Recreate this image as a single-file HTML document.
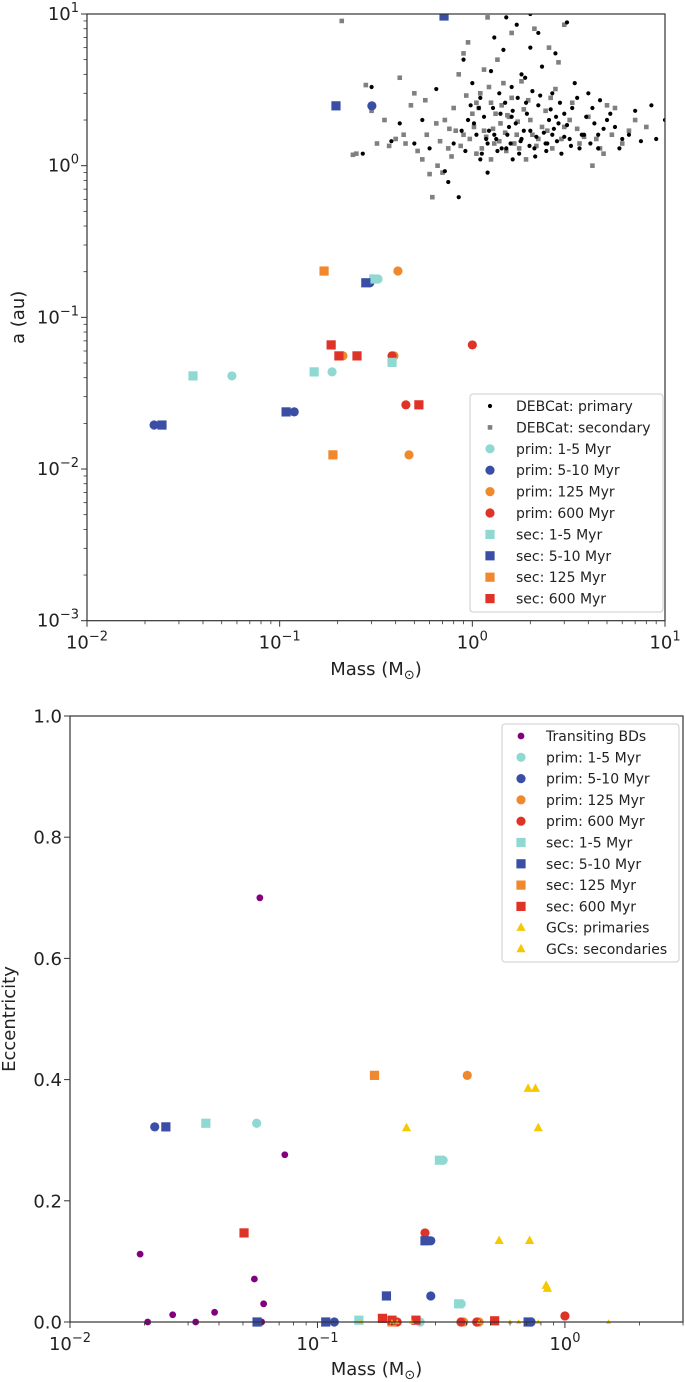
<!DOCTYPE html>
<html><head><meta charset="utf-8"><style>
body{margin:0;background:#fff;}
svg{display:block;font-family:"DejaVu Sans","Liberation Sans",sans-serif;}
</style></head><body>
<svg id="fig" width="685" height="1382" viewBox="0 0 685 1382" xmlns="http://www.w3.org/2000/svg"></svg>
<script>
// ---------- Top panel data ----------
const debPrimMass=[1.2,1.3,1.5,1.6,1.8,2.0,2.2,2.4,2.6,2.8,3.0,3.2,3.5,3.8,4.2,4.5,5.0,5.5,6.0,7.0,8.5,10,9,1.1,1.0,0.9,1.3,1.5,1.7,2.0,2.3,2.7,3.1,2.0,1.1,1.2,0.8,0.75,0.85,0.6,0.55,0.7,0.65,1.4,1.6,1.9,2.1,2.5,2.9,3.4,4.0,4.6,1.25,1.45,1.8,2.2,0.95,1.05,1.35,1.55,1.75,2.6,3.6,4.3,0.72,0.5,0.42,0.38,0.3,0.27,
1.15,1.22,1.28,1.33,1.38,1.42,1.48,1.52,1.58,1.62,1.68,1.72,1.78,1.85,1.92,1.98,2.05,2.15,2.25,2.35,2.45,2.55,2.65,2.75,2.85,3.1,3.3,3.7,3.9,4.1,4.8,5.2,5.8,6.5,7.5,1.02,0.98,1.12,1.18,1.62,1.88,2.12,2.42,2.72,3.25,0.88,0.92,1.08,4.5,3.0];
const debPrimA=[1.4,1.6,1.3,2.1,1.5,1.7,2.5,1.4,3.0,1.9,2.2,1.5,2.8,1.6,2.4,1.3,2.0,1.8,1.5,2.3,2.5,2.0,1.5,2.8,3.5,5.0,7.0,9.5,8.5,6.0,4.5,5.5,8.8,10,1.1,0.9,1.4,0.78,0.62,1.3,2.0,9.8,3.2,2.2,3.3,2.6,1.3,2.0,1.2,3.5,3.0,2.7,4.2,5.8,4.0,7.5,2.0,1.6,1.25,1.8,1.2,1.6,1.3,1.9,0.92,1.4,1.9,1.45,3.3,1.2,
2.1,1.7,2.4,1.5,3.0,1.3,2.6,1.6,1.4,2.3,1.9,2.8,1.45,1.7,2.2,1.35,3.1,1.55,2.9,1.65,1.4,2.35,1.75,1.45,2.6,1.85,2.4,1.6,2.1,1.4,1.75,2.2,1.3,1.6,1.45,1.9,2.5,1.2,1.5,1.1,3.8,1.15,1.25,2.1,1.35,1.7,1.25,2.4,1.6,1.55];
const debSecMass=[0.21,0.25,0.28,0.35,0.4,0.45,0.5,0.55,0.6,0.62,0.7,0.75,0.8,0.85,0.9,0.95,1.0,1.05,1.1,1.15,1.2,1.25,1.3,1.35,1.4,1.5,1.6,1.7,1.8,1.9,2.0,2.1,2.2,2.4,2.6,2.8,3.0,3.3,3.6,4.0,4.4,4.8,5.3,6.0,7.0,8.0,3.0,2.5,1.6,0.9,0.48,0.65,1.45,1.75,2.3,1.25,0.42,0.32,0.78,1.05,5.5,4.2,2.7,1.95,1.15,0.58,
0.24,0.3,0.37,0.44,0.52,0.57,0.68,0.72,0.82,0.87,0.93,0.97,1.02,1.08,1.12,1.18,1.22,1.28,1.32,1.38,1.42,1.48,1.55,1.65,1.72,1.85,2.05,2.15,2.45,2.55,2.9,3.2,3.5,3.8,4.6,5.0,6.5,0.66,0.76,1.52];
const debSecA=[9.0,1.2,3.4,2.0,1.5,1.4,3.0,1.1,0.88,0.62,0.9,1.3,2.4,4.0,1.6,6.5,2.2,1.2,3.0,1.7,9.5,2.6,1.4,5.0,1.9,1.25,2.8,1.6,3.6,1.1,2.0,8.0,1.5,2.3,1.3,4.8,1.8,2.6,1.4,2.1,1.5,1.2,1.6,1.4,2.0,1.8,8.5,6.0,7.5,5.5,2.5,1.9,3.5,1.3,1.8,1.1,3.8,1.4,1.15,2.6,2.4,1.0,3.2,2.7,4.3,1.6,
1.18,2.3,1.35,1.6,1.25,2.7,1.45,2.0,1.7,1.35,2.9,1.5,1.8,2.4,1.3,1.55,3.3,1.75,2.2,1.45,2.5,1.65,2.1,1.4,1.95,2.35,1.6,1.35,1.7,2.8,1.5,2.0,1.75,1.55,1.3,2.5,1.7,1.0,1.75,2.15];
// group order: prim 1-5, prim 5-10, prim 125, prim 600, sec 1-5, sec 5-10, sec 125, sec 600
const topMass=[
 [0.0565,0.187,0.324],
 [0.0223,0.119,0.294,0.301],
 [0.411,0.213,0.392,0.469],
 [0.383,0.452,1.0],
 [0.0355,0.151,0.383,0.308],
 [0.0245,0.108,0.280,0.196,0.713],
 [0.170,0.189],
 [0.185,0.203,0.252,0.528]];
const topA=[
 [0.0411,0.0437,0.179],
 [0.0195,0.0238,0.169,2.48],
 [0.202,0.0557,0.0557,0.0124],
 [0.0557,0.0265,0.0658],
 [0.0411,0.0437,0.0505,0.179],
 [0.0195,0.0238,0.169,2.48,9.7],
 [0.202,0.0124],
 [0.0658,0.0557,0.0557,0.0265]];
// ---------- Bottom panel data ----------
const bdMass=[0.0192,0.0206,0.026,0.0322,0.0384,0.0556,0.0606,0.0595,0.0585,0.0738];
const bdEcc=[0.112,0,0.012,0,0.016,0.071,0.03,0,0.70,0.276];
const botMass=[
 [0.0568,0.322,0.381,0.26],
 [0.022,0.287,0.117,0.73,0.287],
 [0.403,0.39,0.45,0.205],
 [0.272,0.38,0.44,1.0,0.21],
 [0.0354,0.311,0.372,0.147],
 [0.0244,0.272,0.19,0.057,0.108,0.71],
 [0.170,0.2],
 [0.0505,0.183,0.25,0.52,0.2]];
const botEcc=[
 [0.328,0.267,0.03,0],
 [0.322,0.134,0,0,0.043],
 [0.407,0,0,0],
 [0.147,0,0,0.01,0],
 [0.328,0.267,0.03,0.003],
 [0.322,0.134,0.043,0,0,0],
 [0.407,0],
 [0.147,0.006,0.003,0.002,0.003]];
const gcPrimMass=[0.229,0.71,0.78,0.542,0.85,0.15,0.2,0.24,0.6,0.78,1.5];
const gcPrimEcc=[0.32,0.385,0.32,0.134,0.055,0,0,0,0,0,0];
const gcSecMass=[0.76,0.72,0.84,0.21,0.45,0.65];
const gcSecEcc=[0.385,0.134,0.06,0,0,0];
const groupColors=['#8fd9d2','#3b4ea6','#f0892e','#df3327','#8fd9d2','#3b4ea6','#f0892e','#df3327'];
const groupLabels=['prim: 1-5 Myr','prim: 5-10 Myr','prim: 125 Myr','prim: 600 Myr','sec: 1-5 Myr','sec: 5-10 Myr','sec: 125 Myr','sec: 600 Myr'];
const topXTicks=['-2','-1','0','1'];
const topYTicks=['1','0','-1','-2','-3'];
const botXTicks=['-2','-1','0'];
const botYTicks=['0.0','0.2','0.4','0.6','0.8','1.0'];

const NS='http://www.w3.org/2000/svg';
const svg=document.getElementById('fig');
function mk(tag,attrs,parent){const e=document.createElementNS(NS,tag);for(const k in attrs)e.setAttribute(k,attrs[k]);(parent||svg).appendChild(e);return e;}

const T={x0:87,x1:665,y0:14,y1:620.7,lx0:-2,lx1:1,ly0:-3,ly1:1};
const tx=m=>T.x0+(Math.log10(m)-T.lx0)/(T.lx1-T.lx0)*(T.x1-T.x0);
const ty=a=>T.y1-(Math.log10(a)-T.ly0)/(T.ly1-T.ly0)*(T.y1-T.y0);
const B={x0:70,x1:683,y0:716,y1:1322,lx0:-2,lx1:Math.log10(3.0)};
const bx=m=>B.x0+(Math.log10(m)-B.lx0)/(B.lx1-B.lx0)*(B.x1-B.x0);
const by=e=>B.y1-e*(B.y1-B.y0);
const FS=18, FSE=13;

function marker(g,shape,x,y,color,size){
  let el;
  if(shape==='circle'){el=mk('circle',{cx:x,cy:y,r:size,fill:color},g);}
  else if(shape==='square'){el=mk('rect',{x:x-size,y:y-size,width:2*size,height:2*size,fill:color},g);}
  else {el=mk('polygon',{points:`${x},${y-size*1.15} ${x-size},${y+size*0.7} ${x+size},${y+size*0.7}`,fill:color},g);}
  return el;
}
function pow10(g,x,y,anchor,p){
  const t=mk('text',{x:x,y:y,'text-anchor':anchor,'font-size':FS,fill:'#222'},g);
  t.innerHTML=`10<tspan dy="-8" font-size="${FSE}">${p.replace('-','−')}</tspan>`;
  return t;
}

// ---- Top panel ----
const gT=mk('g',{});


const clipT=mk('clipPath',{id:'ct'});mk('rect',{x:T.x0,y:T.y0,width:T.x1-T.x0,height:T.y1-T.y0},clipT);
const gTd=mk('g',{'clip-path':'url(#ct)'},gT);
debSecMass.forEach((m,i)=>{const e=marker(gTd,'square',tx(m),ty(debSecA[i]),'#808080',2.3);

});
debPrimMass.forEach((m,i)=>{const e=marker(gTd,'circle',tx(m),ty(debPrimA[i]),'#000',2.1);

});
topMass.forEach((arr,g)=>arr.forEach((m,i)=>{const e=marker(gTd,g<4?'circle':'square',tx(m),ty(topA[g][i]),groupColors[g],4.6);

}));
const fT=mk('rect',{x:T.x0,y:T.y0,width:T.x1-T.x0,height:T.y1-T.y0,fill:'none',stroke:'#333','stroke-width':1.2},gT);


topXTicks.forEach((p,i)=>{const v=Math.pow(10,+p);const x=tx(v);
 mk('line',{x1:x,y1:T.y1,x2:x,y2:T.y1+6,stroke:'#333','stroke-width':1},gT);
 const t=pow10(gT,x,T.y1+28,'middle',p);
 
 
 if(i<topXTicks.length-1)for(let k=2;k<10;k++){const xm=tx(v*k);mk('line',{x1:xm,y1:T.y1,x2:xm,y2:T.y1+3.5,stroke:'#333','stroke-width':0.8},gT);}
});
topYTicks.forEach((p,i)=>{const v=Math.pow(10,+p);const y=ty(v);
 mk('line',{x1:T.x0-6,y1:y,x2:T.x0,y2:y,stroke:'#333','stroke-width':1},gT);
 const t=pow10(gT,T.x0-8,y+6,'end',p);
 
 
 if(i>0)for(let k=2;k<10;k++){const ym=ty(v*k);mk('line',{x1:T.x0-3.5,y1:ym,x2:T.x0,y2:ym,stroke:'#333','stroke-width':0.8},gT);}
});
let lab=mk('text',{x:(T.x0+T.x1)/2,y:675,'text-anchor':'middle','font-size':FS,fill:'#222'},gT);
lab.innerHTML='Mass (M<tspan dy="4" font-size="13">⊙</tspan><tspan dy="-4">)</tspan>';


lab=mk('text',{x:24,y:(T.y0+T.y1)/2,'text-anchor':'middle','font-size':FS,fill:'#222',transform:`rotate(-90 24 ${(T.y0+T.y1)/2})`},gT);
lab.textContent='a (au)';


const lgT=mk('g',{},gT);


mk('rect',{x:470,y:394,width:193,height:218,rx:3,fill:'#fff','fill-opacity':0.85,stroke:'#ccc'},lgT);
const topLeg=[['circle','#000',2.1,'DEBCat: primary'],['square','#808080',2.3,'DEBCat: secondary']].concat(groupLabels.map((l,g)=>[g<4?'circle':'square',groupColors[g],4.6,l]));
topLeg.forEach((it,i)=>{const y=406+i*21.4;const g=mk('g',{},lgT);
 
 
 marker(g,it[0],490,y,it[1],it[2]);
 const t=mk('text',{x:516,y:y+5,'font-size':14,fill:'#222'},g);t.textContent=it[3];});

// ---- Bottom panel ----
const gB=mk('g',{});


const clipB=mk('clipPath',{id:'cb'});mk('rect',{x:B.x0,y:B.y0,width:B.x1-B.x0,height:B.y1-B.y0+6},clipB);
const gBd=mk('g',{'clip-path':'url(#cb)'},gB);
bdMass.forEach((m,i)=>{const e=marker(gBd,'circle',bx(m),by(bdEcc[i]),'#800080',3.4);

});
botMass.forEach((arr,g)=>arr.forEach((m,i)=>{const e=marker(gBd,g<4?'circle':'square',bx(m),by(botEcc[g][i]),groupColors[g],4.6);

}));
gcPrimMass.forEach((m,i)=>{const e=marker(gBd,'tri',bx(m),by(gcPrimEcc[i]),'#f5c800',gcPrimEcc[i]>0?4.6:2.5);

});
gcSecMass.forEach((m,i)=>{const e=marker(gBd,'tri',bx(m),by(gcSecEcc[i]),'#f5c800',gcSecEcc[i]>0?4.6:2.5);

});
const fB=mk('rect',{x:B.x0,y:B.y0,width:B.x1-B.x0,height:B.y1-B.y0,fill:'none',stroke:'#333','stroke-width':1.2},gB);


botXTicks.forEach((p)=>{const v=Math.pow(10,+p);const x=bx(v);
 mk('line',{x1:x,y1:B.y1,x2:x,y2:B.y1+6,stroke:'#333','stroke-width':1},gB);
 const t=pow10(gB,x,B.y1+28,'middle',p);
 
 
 for(let k=2;k<10;k++){const xm=bx(v*k);if(xm<=B.x1+0.5)mk('line',{x1:xm,y1:B.y1,x2:xm,y2:B.y1+3.5,stroke:'#333','stroke-width':0.8},gB);}
});
botYTicks.forEach((p)=>{const y=by(+p);
 mk('line',{x1:B.x0-6,y1:y,x2:B.x0,y2:y,stroke:'#333','stroke-width':1},gB);
 const t=mk('text',{x:B.x0-8,y:y+6.5,'text-anchor':'end','font-size':FS,fill:'#222'},gB);
 t.textContent=p;
 
 
});
lab=mk('text',{x:(B.x0+B.x1)/2,y:1375,'text-anchor':'middle','font-size':FS,fill:'#222'},gB);
lab.innerHTML='Mass (M<tspan dy="4" font-size="13">⊙</tspan><tspan dy="-4">)</tspan>';


lab=mk('text',{x:15,y:(B.y0+B.y1)/2,'text-anchor':'middle','font-size':FS,fill:'#222',transform:`rotate(-90 15 ${(B.y0+B.y1)/2})`},gB);
lab.textContent='Eccentricity';


const lgB=mk('g',{},gB);


mk('rect',{x:502,y:724,width:177,height:238,rx:3,fill:'#fff','fill-opacity':0.85,stroke:'#ccc'},lgB);
const botLeg=[['circle','#800080',3.4,'Transiting BDs']].concat(groupLabels.map((l,g)=>[g<4?'circle':'square',groupColors[g],4.6,l])).concat([['tri','#f5c800',4.6,'GCs: primaries'],['tri','#f5c800',4.6,'GCs: secondaries']]);
botLeg.forEach((it,i)=>{const y=736+i*21.3;const g=mk('g',{},lgB);
 
 
 marker(g,it[0],521,y,it[1],it[2]);
 const t=mk('text',{x:546,y:y+5,'font-size':14,fill:'#222'},g);t.textContent=it[3];});
</script>
</body></html>
